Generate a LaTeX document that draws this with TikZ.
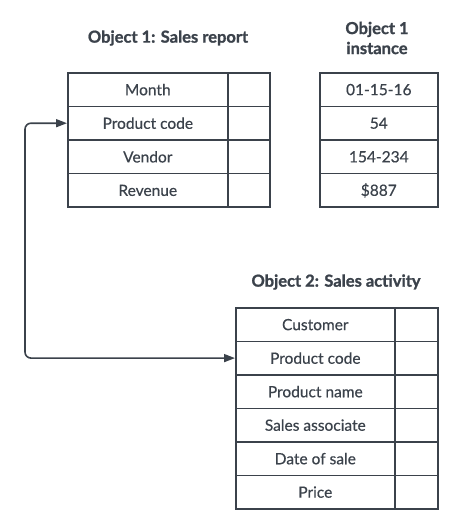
\documentclass[tikz,border=0pt]{standalone}
\usepackage{fontspec}
\setmainfont{Lato}
\newfontfamily\bodyfont[FakeBold=0.5]{Lato}
\newfontfamily\titlefont[FakeBold=1.2]{Lato Bold}
\usetikzlibrary{arrows.meta}
\definecolor{ink}{HTML}{3B424B}
\begin{document}
\begin{tikzpicture}[x=1pt,y=-1pt,
  cell/.style={draw=ink,line width=1.6pt,minimum height=33.6pt,inner sep=0pt,anchor=north west,text=ink,font=\bodyfont\fontsize{15.5}{18}\selectfont},
  ttl/.style={text=ink,font=\titlefont\fontsize{16.5}{20}\selectfont,align=center},
  link/.style={draw=ink,line width=1.6pt,rounded corners=6pt,{Triangle[length=11pt,width=8pt]}-{Triangle[length=11pt,width=8pt]}}]
\useasboundingbox (0,0) rectangle (474,519);
% titles
\node[ttl] (t1) at (168,38) {Object 1: Sales report};
\node[ttl] (t2) at (377,38) {Object 1\\instance};
\node[ttl] (t3) at (336,282) {Object 2: Sales activity};
% table 1
\foreach \txt/\i in {Month/0,Product code/1,Vendor/2,Revenue/3}{
  \node[cell,minimum width=160pt] (a\i) at (67,72+33.6*\i) {\txt};
  \node[cell,minimum width=42pt] (b\i) at (227,72+33.6*\i) {};
}
% instance table
\foreach \txt/\i in {01-15-16/0,54/1,154-234/2,\$887/3}{
  \node[cell,minimum width=118pt] (c\i) at (319,72+33.6*\i) {\txt};
}
% table 2
\foreach \txt/\i in {Customer/0,Product code/1,Product name/2,Sales associate/3,Date of sale/4,Price/5}{
  \node[cell,minimum width=159pt] (d\i) at (235,307+33.5*\i) {\txt};
  \node[cell,minimum width=43pt] (e\i) at (394,307+33.5*\i) {};
}
% connector
\coordinate (k1) at (25,0 |- a1.west);
\coordinate (k2) at (25,0 |- d1.west);
\draw[link] (d1.west) -- (k2) -- (k1) -- (a1.west);
\end{tikzpicture}
\end{document}
